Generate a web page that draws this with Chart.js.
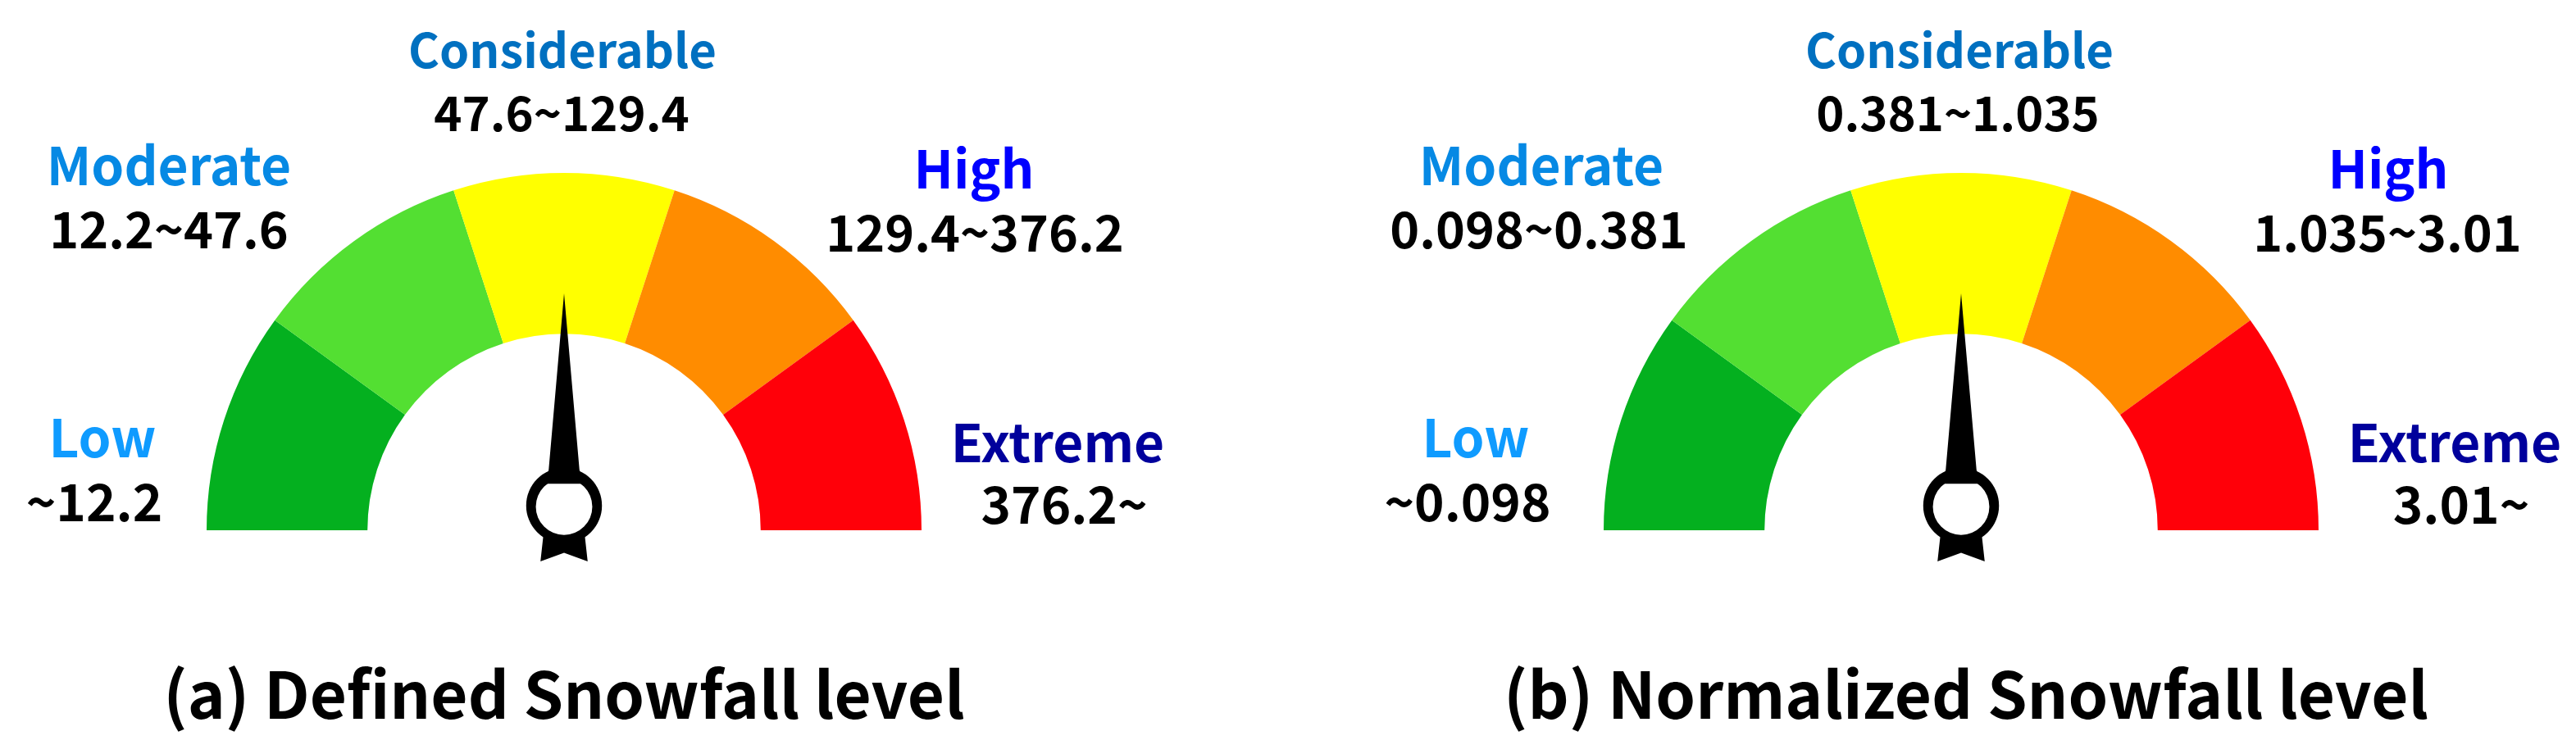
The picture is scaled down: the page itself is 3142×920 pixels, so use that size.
<!DOCTYPE html>
<html>
<head>
<meta charset="utf-8">
<title>Snowfall level gauges</title>
<script src="https://cdn.jsdelivr.net/npm/chart.js@4.4.0/dist/chart.umd.min.js"></script>
<style>
  html, body { margin: 0; padding: 0; background: #fff; }
  .row { display: flex; width: 3142px; height: 920px; }
  .gauge { position: relative; width: 1571px; height: 920px; }
</style>
</head>
<body>
<div class="row">
  <div class="gauge"><canvas id="definedGauge"></canvas></div>
  <div class="gauge"><canvas id="normalizedGauge"></canvas></div>
</div>
<script>
// Snowfall level gauges (defined / normalized thresholds)

// data
const levelNames = ['Low', 'Moderate', 'Considerable', 'High', 'Extreme'];
const definedBreaks = [12.2, 47.6, 129.4, 376.2];
const normalizedBreaks = [0.098, 0.381, 1.035, 3.01];
const segmentSizes = [1, 1, 1, 1, 1];
const needleLevel = 2.5; // middle of "Considerable"
const captions = ['(a) Defined Snowfall level', '(b) Normalized Snowfall level'];

// styles
const segmentColors = ['#04b01f', '#53df32', '#ffff00', '#ff8c00', '#ff0009'];
const nameColors = ['#0f9bff', '#0689e4', '#0070c0', '#0000ff', '#00009c'];
const nameSizes = [64, 64, 58, 64, 64];
const valueSizes = [62, 61, 58, 61, 62];
const captionSize = 78;
const fontFamily = '"Noto Sans CJK KR", "Open Sans", sans-serif';

// layout (canvas pixels)
const nameBaselines = [558, 226, 83, 230, 564];
const valueBaselines = [636, 303, 160, 307, 639];
const captionBaseline = 877;

function rangeLabels(breaks) {
    const out = ['~' + breaks[0]];
    for (let i = 1; i < breaks.length; i++) {
        out.push(breaks[i - 1] + '~' + breaks[i]);
    }
    out.push(breaks[breaks.length - 1] + '~');
    return out;
}

function drawNeedle(ctx, arc, level, total) {
    const R = arc.outerRadius;
    const angle = Math.PI + Math.PI * level / total;
    ctx.save();
    ctx.translate(arc.x, arc.y);
    ctx.rotate(angle + Math.PI / 2);
    ctx.scale(R, R);
    ctx.fillStyle = '#000';

    // blade
    ctx.beginPath();
    ctx.moveTo(0, -0.663);
    ctx.lineTo(0.043, -0.17);
    ctx.quadraticCurveTo(0.045, -0.15, 0.085, -0.13);
    ctx.lineTo(-0.085, -0.13);
    ctx.quadraticCurveTo(-0.045, -0.15, -0.043, -0.17);
    ctx.closePath();
    ctx.fill();

    // hub ring
    ctx.beginPath();
    ctx.arc(0, -0.069, 0.106, 0, Math.PI * 2);
    ctx.arc(0, -0.066, 0.079, 0, Math.PI * 2, true);
    ctx.fill('evenodd');

    // tail
    ctx.beginPath();
    ctx.moveTo(-0.058, 0.015);
    ctx.lineTo(0.058, 0.015);
    ctx.lineTo(0.066, 0.087);
    ctx.lineTo(0, 0.063);
    ctx.lineTo(-0.066, 0.087);
    ctx.closePath();
    ctx.fill();
    ctx.restore();
}

const gaugeDecor = {
    id: 'gaugeDecor',
    afterDraw(chart, args, opts) {
        const ctx = chart.ctx;
        const arc = chart.getDatasetMeta(0).data[0];
        drawNeedle(ctx, arc, opts.level, segmentSizes.length);

        ctx.save();
        ctx.textAlign = 'center';
        ctx.textBaseline = 'alphabetic';
        levelNames.forEach(function(name, i) {
            ctx.fillStyle = nameColors[i];
            ctx.font = 'bold ' + nameSizes[i] + 'px ' + fontFamily;
            ctx.fillText(name, opts.nameX[i], nameBaselines[i]);
            ctx.fillStyle = '#000';
            ctx.font = 'bold ' + valueSizes[i] + 'px ' + fontFamily;
            ctx.fillText(opts.ranges[i], opts.valueX[i], valueBaselines[i]);
        });
        ctx.fillStyle = '#000';
        ctx.font = 'bold ' + captionSize + 'px ' + fontFamily;
        ctx.fillText(opts.caption, opts.captionX, captionBaseline);
        ctx.restore();
    }
};

function makeGauge(id, breaks, caption, pad, nameX, valueX, captionX) {
    const ctx = document.getElementById(id);
    return new Chart(ctx, {
        type: 'doughnut',
        data: {
            labels: levelNames,
            datasets: [{
                data: segmentSizes,
                backgroundColor: segmentColors,
                borderWidth: 0,
                hoverOffset: 0,
                offset: 0
            }]
        },
        options: {
            responsive: true,
            maintainAspectRatio: false,
            animation: false,
            events: [],
            rotation: -90,
            circumference: 180,
            cutout: '55%',
            layout: { padding: pad },
            plugins: {
                legend: { display: false },
                tooltip: { enabled: false },
                gaugeDecor: {
                    level: needleLevel,
                    ranges: rangeLabels(breaks),
                    caption: caption,
                    nameX: nameX,
                    valueX: valueX,
                    captionX: captionX
                }
            }
        },
        plugins: [gaugeDecor]
    });
}

makeGauge('definedGauge', definedBreaks, captions[0],
    { left: 252, right: 447, top: 211, bottom: 273 },
    [125, 206, 686, 1188, 1290], [115, 206, 685, 1189, 1298], 688);

makeGauge('normalizedGauge', normalizedBreaks, captions[1],
    { left: 385, right: 314, top: 211, bottom: 273 },
    [229, 309, 819, 1342, 1423], [219, 306, 817, 1341, 1431], 827);
</script>
</body>
</html>
